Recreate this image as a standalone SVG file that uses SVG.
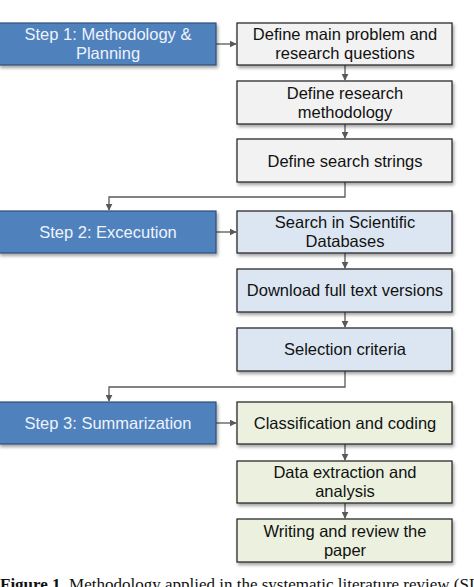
<svg xmlns="http://www.w3.org/2000/svg" width="474" height="587" viewBox="0 0 474 587">
<defs>
<style>
.step{fill:#4f81bd;stroke:#2f4f77;stroke-width:1.2}
.box{stroke:#2b2b2b;stroke-width:1.3}
.g{fill:#f2f2f2}.b{fill:#dce6f2}.gr{fill:#ebf1de}
text{font-family:"Liberation Sans",Arial,sans-serif;font-size:16.5px;text-anchor:middle}
.st{fill:#eef3fb}
.dt{fill:#111}
.conn{fill:none;stroke:#595959;stroke-width:1.3}
.cap{font-family:"Liberation Serif","Times New Roman",serif;font-size:17px;text-anchor:start;fill:#111}
</style>
<marker id="ah" viewBox="0 0 10 10" refX="9" refY="5" markerWidth="7" markerHeight="7" orient="auto" markerUnits="userSpaceOnUse">
<path d="M0,0 L10,5 L0,10 z" fill="#595959"/>
</marker>
<filter id="sh" x="-5%" y="-10%" width="115%" height="130%">
<feDropShadow dx="1.5" dy="2.5" stdDeviation="1.5" flood-color="#000" flood-opacity="0.35"/>
</filter>
</defs>

<g id="connectors">
<line class="conn" x1="216" y1="44" x2="236" y2="44" marker-end="url(#ah)"/>
<line class="conn" x1="345" y1="65" x2="345" y2="80" marker-end="url(#ah)"/>
<line class="conn" x1="345" y1="124" x2="345" y2="138" marker-end="url(#ah)"/>
<polyline class="conn" points="345,182 345,197 109,197 109,210" marker-end="url(#ah)"/>
<line class="conn" x1="216" y1="232" x2="236" y2="232" marker-end="url(#ah)"/>
<line class="conn" x1="345" y1="253" x2="345" y2="268" marker-end="url(#ah)"/>
<line class="conn" x1="345" y1="312" x2="345" y2="327" marker-end="url(#ah)"/>
<polyline class="conn" points="345,371 345,387 109,387 109,401" marker-end="url(#ah)"/>
<line class="conn" x1="216" y1="423" x2="236" y2="423" marker-end="url(#ah)"/>
<line class="conn" x1="345" y1="444" x2="345" y2="460" marker-end="url(#ah)"/>
<line class="conn" x1="345" y1="503" x2="345" y2="518" marker-end="url(#ah)"/>
</g>

<g id="step1">
<rect class="step" x="-1" y="23" width="217" height="42" filter="url(#sh)"/>
<text class="st" x="108" y="40">Step 1: Methodology &amp;</text>
<text class="st" x="108" y="59">Planning</text>
</g>
<g id="step2">
<rect class="step" x="-1" y="211" width="217" height="42" filter="url(#sh)"/>
<text class="st" x="108" y="238">Step 2: Excecution</text>
</g>
<g id="step3">
<rect class="step" x="-1" y="402" width="217" height="42" filter="url(#sh)"/>
<text class="st" x="108" y="429">Step 3: Summarization</text>
</g>

<g id="define-problem">
<rect class="box g" x="237" y="23" width="215" height="42" filter="url(#sh)"/>
<text class="dt" x="345" y="40">Define main problem and</text>
<text class="dt" x="345" y="59">research questions</text>
</g>
<g id="define-methodology">
<rect class="box g" x="237" y="81" width="215" height="43" filter="url(#sh)"/>
<text class="dt" x="345" y="99">Define research</text>
<text class="dt" x="345" y="118">methodology</text>
</g>
<g id="define-strings">
<rect class="box g" x="237" y="139" width="215" height="43" filter="url(#sh)"/>
<text class="dt" x="345" y="167">Define search strings</text>
</g>

<g id="search-db">
<rect class="box b" x="237" y="211" width="215" height="42" filter="url(#sh)"/>
<text class="dt" x="345" y="228">Search in Scientific</text>
<text class="dt" x="345" y="247">Databases</text>
</g>
<g id="download">
<rect class="box b" x="237" y="269" width="215" height="43" filter="url(#sh)"/>
<text class="dt" x="345" y="296">Download full text versions</text>
</g>
<g id="selection">
<rect class="box b" x="237" y="328" width="215" height="43" filter="url(#sh)"/>
<text class="dt" x="345" y="355">Selection criteria</text>
</g>

<g id="classification">
<rect class="box gr" x="237" y="402" width="215" height="42" filter="url(#sh)"/>
<text class="dt" x="345" y="429">Classification and coding</text>
</g>
<g id="extraction">
<rect class="box gr" x="237" y="461" width="215" height="42" filter="url(#sh)"/>
<text class="dt" x="345" y="478">Data extraction and</text>
<text class="dt" x="345" y="497">analysis</text>
</g>
<g id="writing">
<rect class="box gr" x="237" y="519" width="215" height="43" filter="url(#sh)"/>
<text class="dt" x="345" y="537">Writing and review the</text>
<text class="dt" x="345" y="556">paper</text>
</g>

<text class="cap" x="0" y="590"><tspan font-weight="bold">Figure 1.</tspan> Methodology applied in the systematic literature review (SL</text>
</svg>
